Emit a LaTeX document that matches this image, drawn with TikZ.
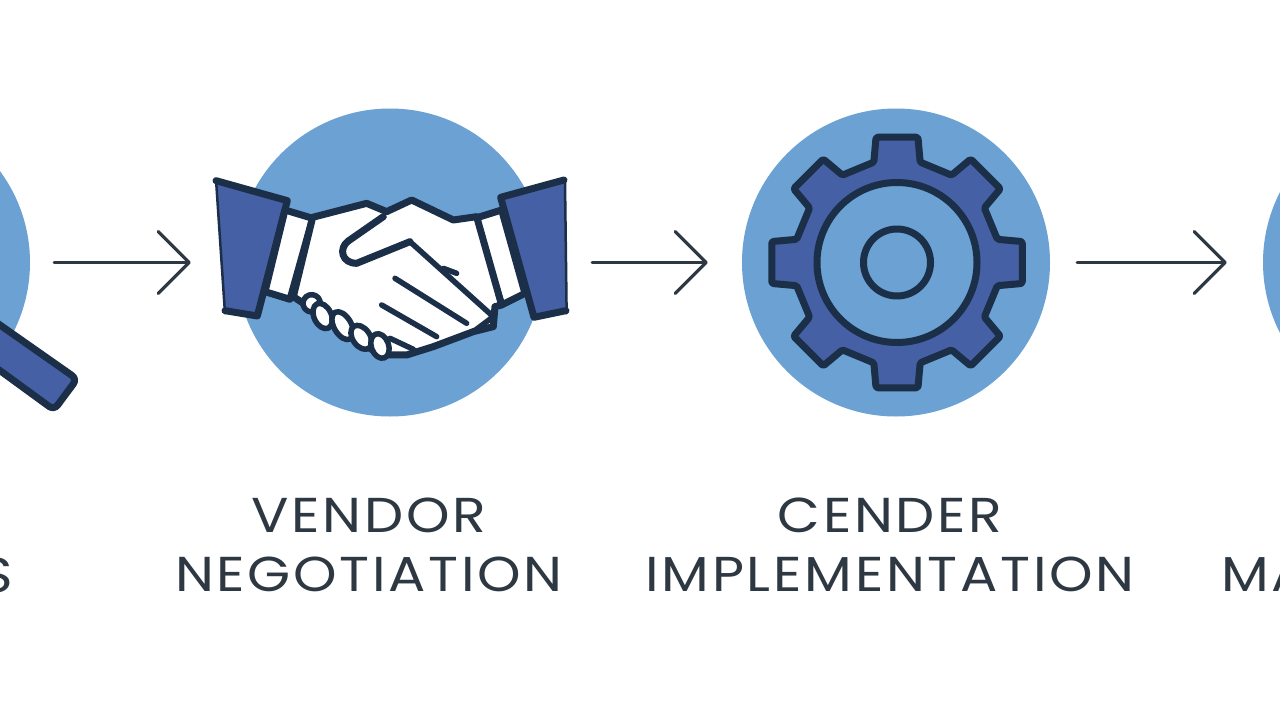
\documentclass[tikz,border=0pt]{standalone}
\usepackage{fontspec}
\setmainfont{Poppins}[FakeStretch=1.13,LetterSpace=5.5]
\usetikzlibrary{arrows.meta}
\definecolor{disc}{HTML}{6BA1D3}
\definecolor{deep}{HTML}{4560A4}
\definecolor{ink}{HTML}{1B2F48}
\definecolor{wire}{HTML}{2E3842}
\tikzset{
 disc/.style={circle,fill=disc,draw=none,inner sep=0pt,minimum size=308pt},
 iconline/.style={draw=ink,line width=7pt,line join=round,line cap=round},
 finer/.style={draw=ink,line width=5.5pt,line cap=round,line join=round},
 flow/.style={draw=wire,line width=3.4pt,line cap=round,-{Straight Barb[length=31pt,width=62pt,line width=3.2pt,round]}},
 caption/.style={text=wire,align=center,font=\fontsize{49}{59}\selectfont,inner sep=0pt},
}
\begin{document}
\begin{tikzpicture}[x=1pt,y=-1pt]
\clip (0,0) rectangle (1280,720);
\fill[white] (0,0) rectangle (1280,720);
\node[disc] (c1) at (-124,262.5) {};
\node[disc] (c2) at (390,262.5) {};
\node[disc] (c3) at (896,262.5) {};
\node[disc] (c4) at (1417,262.5) {};
% connectors
\draw[flow,shorten <=24pt,shorten >=45pt] (c1) -- (c2);
\draw[flow,shorten <=48pt,shorten >=34pt] (c2) -- (c3);
\draw[flow,shorten <=27pt,shorten >=36pt] (c3) -- (c4);
% magnifier handle
\draw[iconline,fill=deep,rounded corners=6pt] (-20,311) -- (77,379) -- (54,410) -- (-20,356) -- cycle;
% handshake
\begin{scope}[shift={(200,160)},x=0.3333pt,y=-0.3333pt]
\fill[deep] (48,58) -- (265,118) -- (175,470) -- (75,460) -- cycle;
\draw[finer,line width=2.5pt] (48,58) -- (75,460);
\draw[iconline] (48,62) -- (262,122) -- (172,468) -- (75,452);
\fill[deep] (1095,55) -- (900,110) -- (1000,480) -- (1100,460) -- cycle;
\draw[finer,line width=2.5pt] (1095,55) -- (1100,460);
\draw[iconline] (1092,60) -- (902,112) -- (1002,472) -- (1098,452);
\draw[iconline,fill=white] (255,150) -- (338,175) -- (270,418) -- (195,395) -- cycle;
\draw[iconline,fill=white] (825,175) -- (905,150) -- (975,400) -- (905,435) -- cycle;
\draw[iconline,fill=white] (338,172) -- (500,130) -- (560,155) -- (635,120) -- (760,180) -- (830,170) -- (905,435) -- (885,440) -- (880,500) -- (820,515) -- (700,560) -- (620,585) -- (540,585) -- (340,450) -- (280,410) -- cycle;
\draw[iconline,fill=white] (550,170) -- (445,243) .. controls (415,265) and (425,310) .. (470,310) -- (630,245);
\draw[finer] (630,245) -- (880,470) -- (820,515);
\draw[finer] (585,355) -- (800,490);
\draw[finer] (545,435) -- (710,530);
\draw[finer] (730,325) -- (770,340);
\draw[finer] (570,535) -- (640,568);
\foreach \fx/\fy/\fa/\fl in {335/430/-50/26,368/468/-65/40,428/497/-60/46,484/532/-55/40,540/558/-70/38}
  \draw[finer,fill=white,rotate around={\fa:(\fx,\fy)}] (\fx,\fy) ellipse [x radius=\fl,y radius=26];
\end{scope}
% gear
\begin{scope}[shift={(897,262.5)}]
\draw[iconline,fill=deep,rounded corners=1.5pt] (-13:103) \foreach \a in {0,45,...,315}{ -- ({\a-13}:103) -- ({\a-9.5}:127) -- ({\a+9.5}:127) -- ({\a+13}:103)} -- cycle;
\draw[iconline,fill=disc] (0,0) circle [radius=80];
\draw[iconline,fill=disc] (0,0) circle [radius=33.5];
\end{scope}
% captions
\node[caption,anchor=east] (capA) at (13,575) {S};
\node[caption] (capB) at (369,545) {VENDOR\\NEGOTIATION};
\node[caption] (capC) at (890,545) {CENDER\\IMPLEMENTATION};
\node[caption,anchor=west] (capD) at (1221,575) {MA};
\end{tikzpicture}
\end{document}
